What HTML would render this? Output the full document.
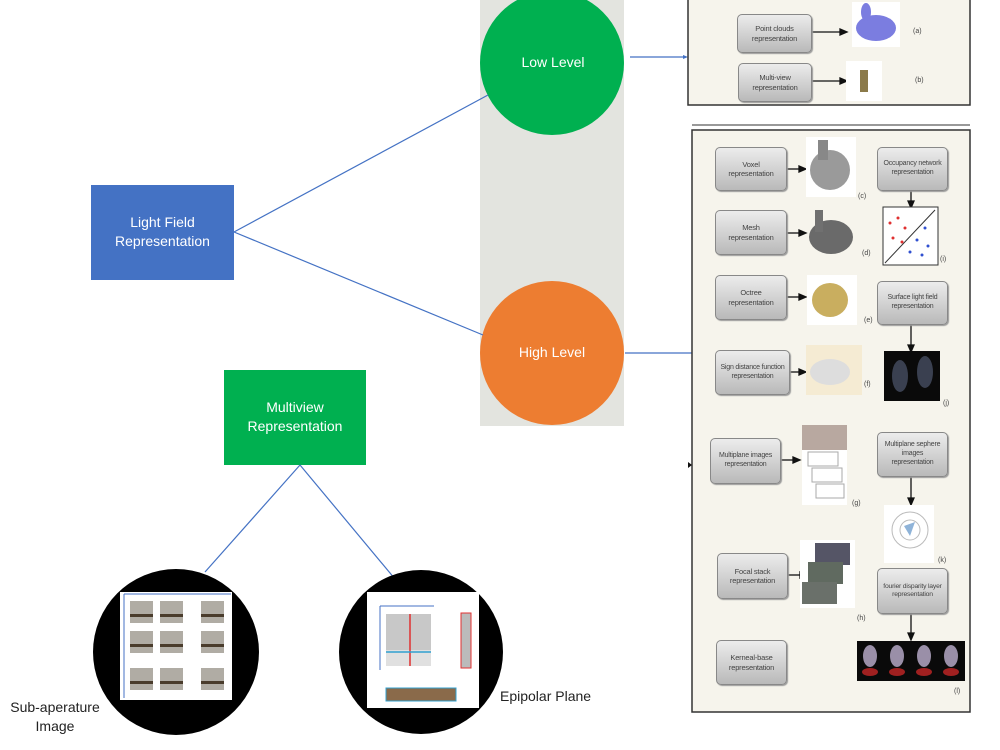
<!DOCTYPE html>
<html><head><meta charset="utf-8"><style>
body{margin:0;width:1000px;height:750px;background:#fff;position:relative;overflow:hidden;font-family:"Liberation Sans",sans-serif}
.a{position:absolute}
.gb{position:absolute;border:1px solid #888;border-radius:5px;background:linear-gradient(#ececec,#b9b9b9);font-size:7.5px;color:#444;display:flex;align-items:center;justify-content:center;text-align:center;line-height:1.25;box-shadow:1px 1px 1px #999;white-space:nowrap;letter-spacing:-0.2px}
.lbl{position:absolute;font-size:7px;color:#444}
.big{font-family:"Liberation Sans",sans-serif;color:#fff;font-size:14px;text-align:center;line-height:19px}
</style></head><body>
<svg class="a" style="left:0;top:0" width="1000" height="750">
<rect x="480" y="0" width="144" height="426" fill="#e3e4df"/>
<circle cx="552" cy="63" r="72" fill="#00b050"/>
<circle cx="552" cy="353" r="72" fill="#ed7d31"/>
<rect x="91" y="185" width="143" height="95" fill="#4472c4"/>
<rect x="224" y="370" width="142" height="95" fill="#00b050"/>
<g stroke="#4472c4" stroke-width="1.2" fill="none">
<line x1="234" y1="232" x2="488" y2="95"/>
<line x1="234" y1="232" x2="483" y2="335"/>
<line x1="630" y1="57" x2="686" y2="57"/>
<line x1="625" y1="353" x2="695" y2="353"/>
<line x1="300" y1="465" x2="205" y2="572"/>
<line x1="300" y1="465" x2="400" y2="585"/>
</g>
<polygon points="688,57 683,55 683,59" fill="#4472c4"/>
<rect x="688" y="-5" width="282" height="110" fill="#f6f4ec" stroke="#333" stroke-width="1.5"/>
<line x1="692" y1="125" x2="970" y2="125" stroke="#999" stroke-width="2"/>
<rect x="692" y="130" width="278" height="582" fill="#f6f4ec" stroke="#333" stroke-width="1.5"/>
<polygon points="688,462 692,465 688,468" fill="#111"/>
<g stroke="#111" stroke-width="1.3" fill="#111">
<line x1="811" y1="32" x2="842" y2="32"/><polygon points="847,32 840,29 840,35"/>
<line x1="811" y1="81" x2="842" y2="81"/><polygon points="847,81 840,78 840,84"/>
<line x1="786" y1="169" x2="801" y2="169"/><polygon points="806,169 799,166 799,172"/>
<line x1="786" y1="233" x2="801" y2="233"/><polygon points="806,233 799,230 799,236"/>
<line x1="786" y1="297" x2="801" y2="297"/><polygon points="806,297 799,294 799,300"/>
<line x1="789" y1="372" x2="801" y2="372"/><polygon points="806,372 799,369 799,375"/>
<line x1="780" y1="460" x2="795" y2="460"/><polygon points="800,460 793,457 793,463"/>
<line x1="787" y1="575" x2="802" y2="575"/><polygon points="807,575 800,572 800,578"/>
<line x1="911" y1="190" x2="911" y2="203"/><polygon points="911,208 908,201 914,201"/>
<line x1="911" y1="324" x2="911" y2="347"/><polygon points="911,352 908,345 914,345"/>
<line x1="911" y1="476" x2="911" y2="500"/><polygon points="911,505 908,498 914,498"/>
<line x1="911" y1="613" x2="911" y2="635"/><polygon points="911,640 908,633 914,633"/>
</g>
<rect x="852" y="2" width="48" height="45" fill="#fff"/><ellipse cx="876" cy="28" rx="20" ry="13" fill="#7b7de0"/><ellipse cx="866" cy="12" rx="5" ry="9" fill="#7b7de0"/>
<rect x="846" y="61" width="36" height="40" fill="#fff"/><rect x="860" y="70" width="8" height="22" fill="#8b7a4a"/>
<rect x="806" y="137" width="50" height="60" fill="#fff"/><ellipse cx="830" cy="170" rx="20" ry="20" fill="#9a9a9a"/><rect x="818" y="140" width="10" height="20" fill="#888"/>
<ellipse cx="831" cy="237" rx="22" ry="17" fill="#6a6a6a"/><rect x="815" y="210" width="8" height="22" fill="#707070"/>
<rect x="807" y="275" width="50" height="50" fill="#fff"/><ellipse cx="830" cy="300" rx="18" ry="17" fill="#c9ae5f"/>
<rect x="806" y="345" width="56" height="50" fill="#f5ebd3"/><ellipse cx="830" cy="372" rx="20" ry="13" fill="#ddd"/>
<rect x="883" y="207" width="55" height="58" fill="#fff" stroke="#333"/><line x1="885" y1="263" x2="935" y2="210" stroke="#333"/>
<g fill="#e03030"><circle cx="890" cy="223" r="1.5"/><circle cx="898" cy="218" r="1.5"/><circle cx="905" cy="228" r="1.5"/><circle cx="893" cy="238" r="1.5"/><circle cx="902" cy="242" r="1.5"/></g>
<g fill="#3050d0"><circle cx="925" cy="228" r="1.5"/><circle cx="917" cy="240" r="1.5"/><circle cx="928" cy="246" r="1.5"/><circle cx="910" cy="252" r="1.5"/><circle cx="922" cy="255" r="1.5"/></g>
<rect x="884" y="351" width="56" height="50" fill="#0a0a0a"/><ellipse cx="900" cy="376" rx="8" ry="16" fill="#3a4050"/><ellipse cx="925" cy="372" rx="8" ry="16" fill="#3a4050"/>
<rect x="802" y="425" width="45" height="80" fill="#fff"/><rect x="802" y="425" width="45" height="25" fill="#b8a8a0"/>
<g fill="none" stroke="#aaa"><rect x="808" y="452" width="30" height="14"/><rect x="812" y="468" width="30" height="14"/><rect x="816" y="484" width="28" height="14"/></g>
<rect x="884" y="505" width="50" height="58" fill="#fff"/><circle cx="910" cy="530" r="18" fill="none" stroke="#bbb"/><circle cx="910" cy="530" r="10" fill="none" stroke="#bbb"/><polygon points="904,526 915,522 910,536" fill="#8fb3d8"/>
<rect x="800" y="540" width="55" height="68" fill="#fff"/><rect x="815" y="543" width="35" height="22" fill="#556"/><rect x="808" y="562" width="35" height="22" fill="#606a60"/><rect x="802" y="582" width="35" height="22" fill="#6a706a"/>
<rect x="857" y="641" width="108" height="40" fill="#0a0a0a"/>
<g fill="#9a8fa8"><ellipse cx="870" cy="656" rx="7" ry="11"/><ellipse cx="897" cy="656" rx="7" ry="11"/><ellipse cx="924" cy="656" rx="7" ry="11"/><ellipse cx="951" cy="656" rx="7" ry="11"/></g>
<g fill="#a02020"><ellipse cx="870" cy="672" rx="8" ry="4"/><ellipse cx="897" cy="672" rx="8" ry="4"/><ellipse cx="924" cy="672" rx="8" ry="4"/><ellipse cx="951" cy="672" rx="8" ry="4"/></g>
<circle cx="176" cy="652" r="83" fill="#000"/>
<circle cx="421" cy="652" r="82" fill="#000"/>
<rect x="120" y="592" width="112" height="108" fill="#fff"/>
<g fill="#b0aca4">
<rect x="130" y="601" width="23" height="22"/><rect x="160" y="601" width="23" height="22"/><rect x="201" y="601" width="23" height="22"/>
<rect x="130" y="631" width="23" height="22"/><rect x="160" y="631" width="23" height="22"/><rect x="201" y="631" width="23" height="22"/>
<rect x="130" y="668" width="23" height="22"/><rect x="160" y="668" width="23" height="22"/><rect x="201" y="668" width="23" height="22"/>
</g>
<g fill="#4a3c2c">
<rect x="130" y="614" width="23" height="3"/><rect x="160" y="614" width="23" height="3"/><rect x="201" y="614" width="23" height="3"/>
<rect x="130" y="644" width="23" height="3"/><rect x="160" y="644" width="23" height="3"/><rect x="201" y="644" width="23" height="3"/>
<rect x="130" y="681" width="23" height="3"/><rect x="160" y="681" width="23" height="3"/><rect x="201" y="681" width="23" height="3"/>
</g>
<g stroke="#4472c4" fill="none"><line x1="124" y1="594" x2="231" y2="594"/><line x1="124" y1="594" x2="124" y2="698"/></g>
<rect x="367" y="592" width="112" height="116" fill="#fff"/>
<rect x="386" y="614" width="45" height="52" fill="#c8c8c8"/><rect x="386" y="650" width="45" height="16" fill="#e0e0e0"/>
<line x1="410" y1="614" x2="410" y2="666" stroke="#e03030" stroke-width="1.5"/>
<line x1="386" y1="652" x2="431" y2="652" stroke="#30a0d0" stroke-width="1.5"/>
<rect x="461" y="613" width="10" height="55" fill="#bbb" stroke="#e03030"/>
<rect x="386" y="688" width="70" height="13" fill="#8a6a4a" stroke="#30a0d0"/>
<g stroke="#4472c4" fill="none"><line x1="380" y1="606" x2="434" y2="606"/><line x1="380" y1="606" x2="380" y2="670"/></g>
</svg>
<div class="a big" style="left:481px;top:53px;width:144px">Low Level</div>
<div class="a big" style="left:480px;top:343px;width:144px">High Level</div>
<div class="a big" style="left:91px;top:213px;width:143px">Light Field<br>Representation</div>
<div class="a big" style="left:224px;top:398px;width:142px">Multiview<br>Representation</div>
<div class="a" style="left:0;top:698px;width:110px;text-align:center;font-size:14px;line-height:19px;color:#222">Sub-aperature<br>Image</div>
<div class="a" style="left:500px;top:688px;font-size:14px;color:#222">Epipolar Plane</div>
<div class="gb" style="left:737px;top:14px;width:73px;height:37px">Point clouds<br>representation</div>
<div class="gb" style="left:738px;top:63px;width:72px;height:37px">Multi-view<br>representation</div>
<div class="gb" style="left:715px;top:147px;width:70px;height:42px">Voxel<br>representation</div>
<div class="gb" style="left:715px;top:210px;width:70px;height:43px">Mesh<br>representation</div>
<div class="gb" style="left:715px;top:275px;width:70px;height:43px">Octree<br>representation</div>
<div class="gb" style="left:715px;top:350px;width:73px;height:43px;font-size:7px">Sign distance function<br>representation</div>
<div class="gb" style="left:877px;top:147px;width:69px;height:42px;font-size:7px">Occupancy network<br>representation</div>
<div class="gb" style="left:877px;top:281px;width:69px;height:42px;font-size:7px">Surface light field<br>representation</div>
<div class="gb" style="left:710px;top:438px;width:69px;height:44px;font-size:7px">Multiplane images<br>representation</div>
<div class="gb" style="left:877px;top:432px;width:69px;height:43px;font-size:7px">Multiplane sephere<br>images<br>representation</div>
<div class="gb" style="left:717px;top:553px;width:69px;height:44px">Focal stack<br>representation</div>
<div class="gb" style="left:877px;top:568px;width:69px;height:44px;font-size:6.8px">fourier disparity layer<br>representation</div>
<div class="gb" style="left:716px;top:640px;width:69px;height:43px">Kerneal-base<br>representation</div>
<div class="lbl" style="left:913px;top:28px">(a)</div>
<div class="lbl" style="left:915px;top:77px">(b)</div>
<div class="lbl" style="left:858px;top:193px">(c)</div>
<div class="lbl" style="left:862px;top:250px">(d)</div>
<div class="lbl" style="left:864px;top:317px">(e)</div>
<div class="lbl" style="left:864px;top:381px">(f)</div>
<div class="lbl" style="left:852px;top:500px">(g)</div>
<div class="lbl" style="left:857px;top:615px">(h)</div>
<div class="lbl" style="left:940px;top:256px">(i)</div>
<div class="lbl" style="left:943px;top:400px">(j)</div>
<div class="lbl" style="left:938px;top:557px">(k)</div>
<div class="lbl" style="left:954px;top:688px">(l)</div>
</body></html>
